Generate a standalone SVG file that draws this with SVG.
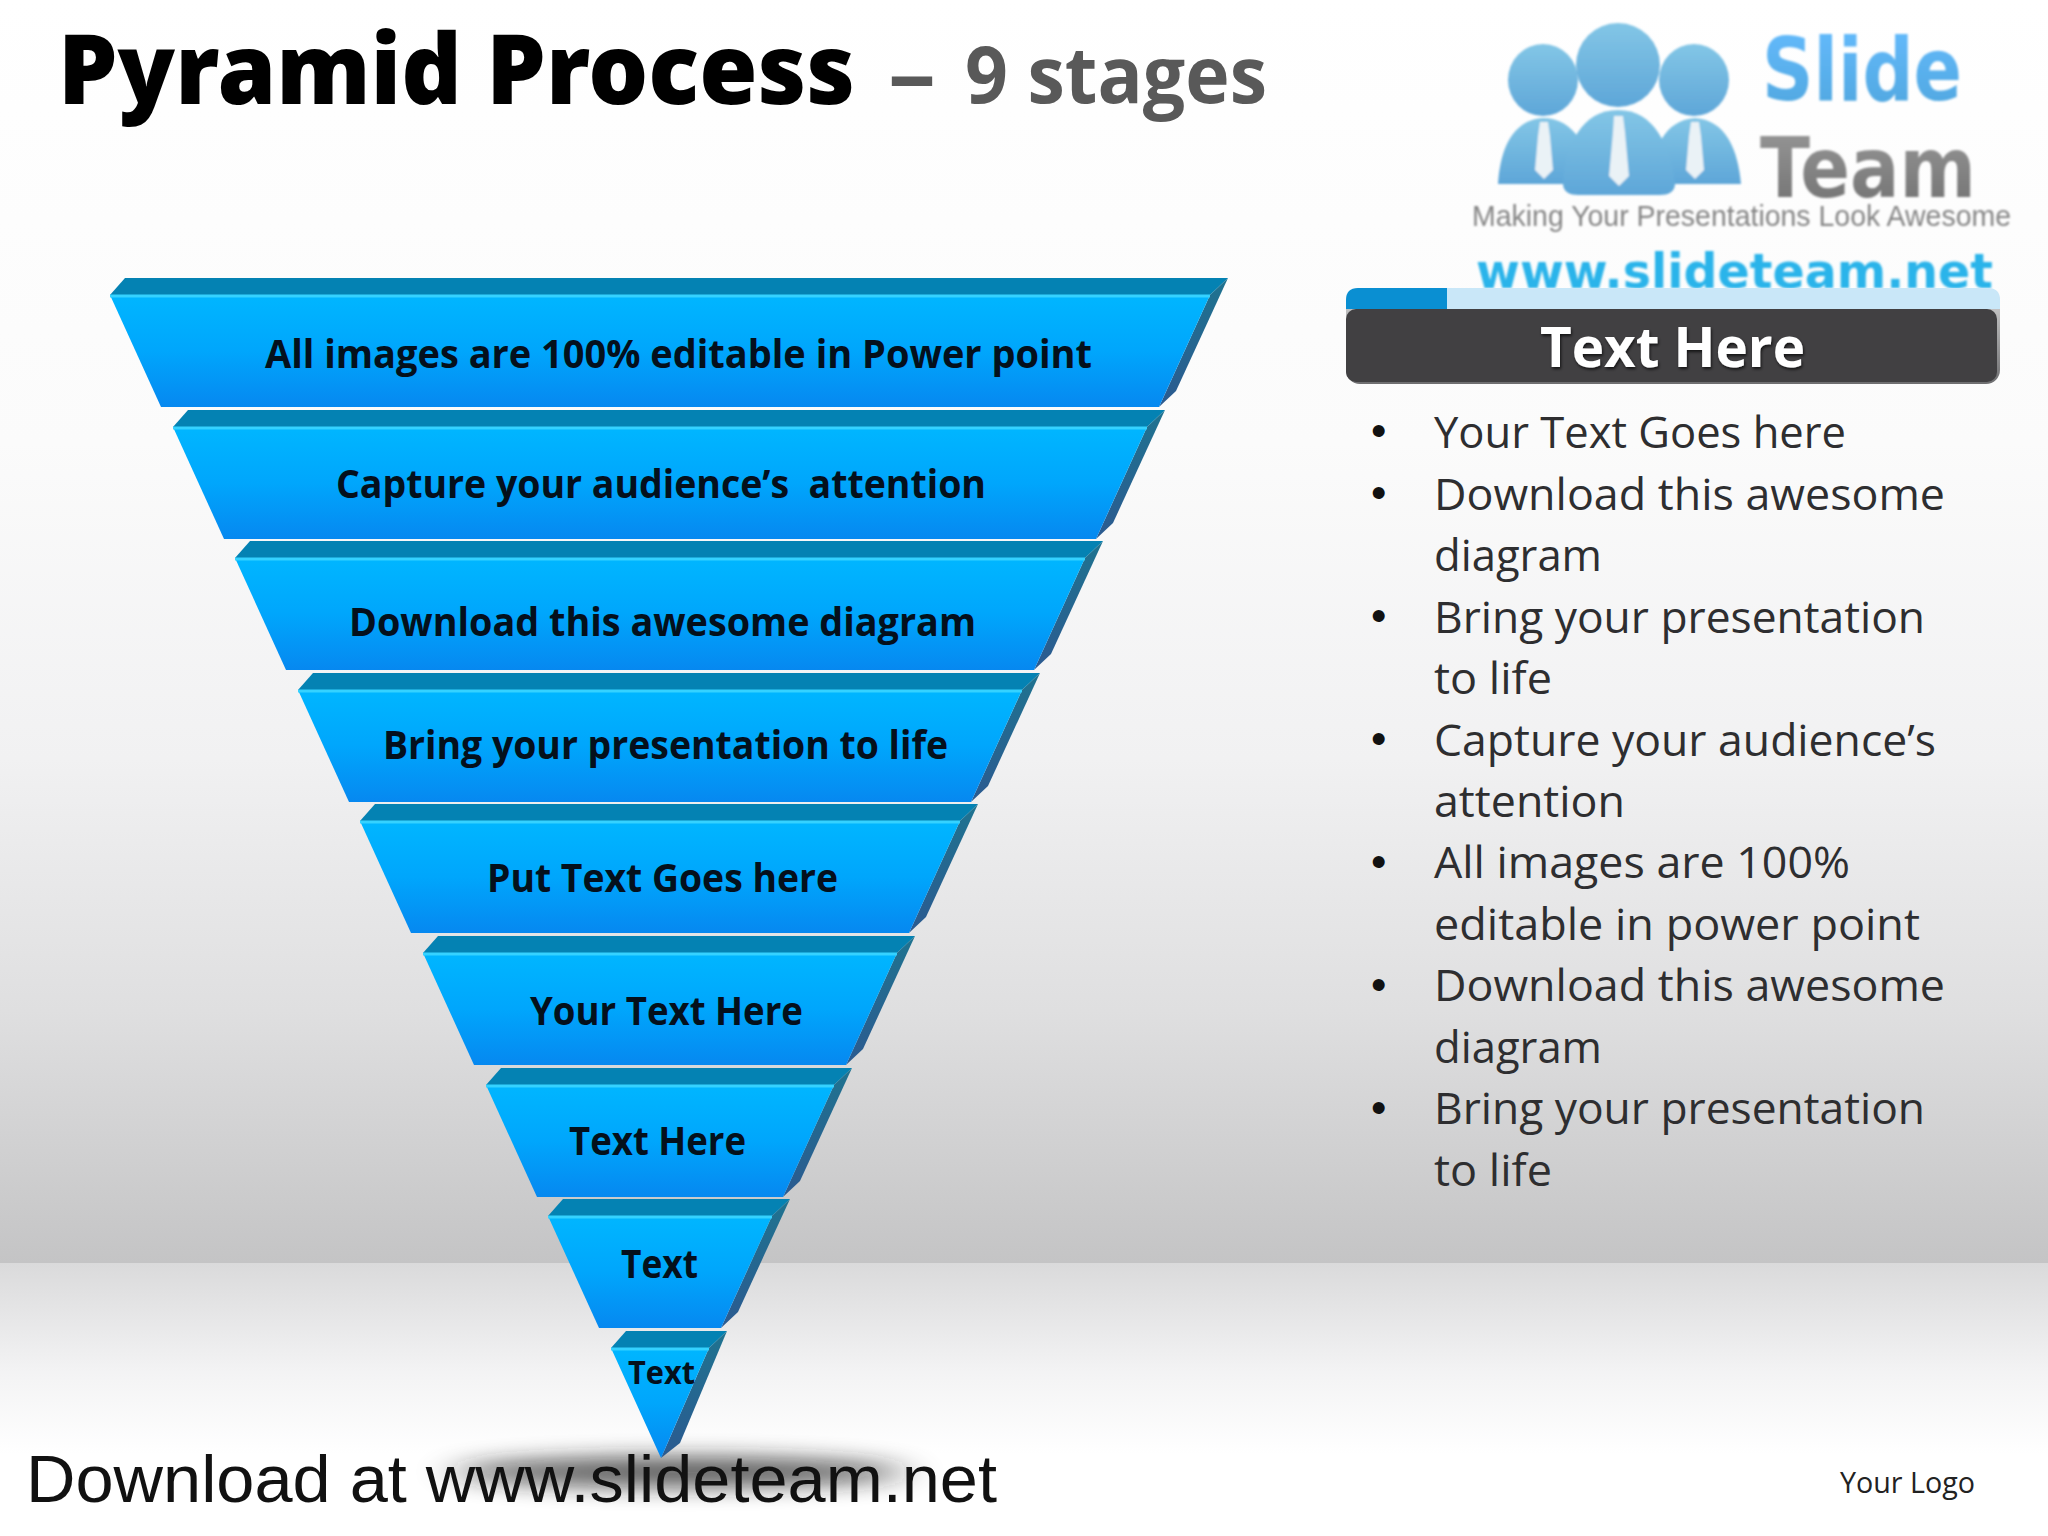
<svg xmlns="http://www.w3.org/2000/svg" width="2048" height="1536" viewBox="0 0 2048 1536">
<defs>
<linearGradient id="wall" x1="0" y1="0" x2="0" y2="1"><stop offset="0" stop-color="#fff"/><stop offset=".35" stop-color="#fbfbfb"/><stop offset=".6" stop-color="#f1f1f2"/><stop offset=".8" stop-color="#dfdfe0"/><stop offset="1" stop-color="#c4c4c5"/></linearGradient>
<linearGradient id="floor" x1="0" y1="0" x2="0" y2="1"><stop offset="0" stop-color="#dadadb"/><stop offset=".4" stop-color="#f3f3f4"/><stop offset=".7" stop-color="#fff"/><stop offset="1" stop-color="#fff"/></linearGradient>
<linearGradient id="front" x1="0" y1="0" x2="0" y2="1"><stop offset="0" stop-color="#00b6ff"/><stop offset=".5" stop-color="#00a6fc"/><stop offset="1" stop-color="#0688f0"/></linearGradient>
<linearGradient id="side" x1="0" y1="0" x2="0" y2="1"><stop offset="0" stop-color="#1f7390"/><stop offset="1" stop-color="#2b5a90"/></linearGradient>
<linearGradient id="person" x1="0" y1="0" x2="0" y2="1"><stop offset="0" stop-color="#83c6e6"/><stop offset="1" stop-color="#5ea6d8"/></linearGradient>
<linearGradient id="slideT" x1="0" y1="0" x2="0" y2="1"><stop offset="0" stop-color="#66bcff"/><stop offset="1" stop-color="#4ea5dc"/></linearGradient>
<linearGradient id="teamT" x1="0" y1="0" x2="0" y2="1"><stop offset="0" stop-color="#9a9a9a"/><stop offset="1" stop-color="#6f6f6f"/></linearGradient>
<linearGradient id="rim" x1="0" y1="0" x2="0" y2="1"><stop offset="0" stop-color="#d8d8d8"/><stop offset="1" stop-color="#6e6e70"/></linearGradient>
<filter id="blurS" x="-30%" y="-200%" width="160%" height="500%"><feGaussianBlur stdDeviation="22 11"/></filter>
<filter id="soft" x="-5%" y="-5%" width="110%" height="110%"><feGaussianBlur stdDeviation="0.8"/></filter>
<filter id="tshadow" x="-10%" y="-20%" width="120%" height="150%"><feDropShadow dx="1" dy="2" stdDeviation="1.5" flood-color="#000" flood-opacity=".7"/></filter>
</defs>
<style>
.top{fill:#0482b3}
.front{fill:url(#front)}
.side{fill:url(#side)}
.hl{stroke:#35d2ff;stroke-width:3;fill:none}
.lab{font-family:"Open Sans","Liberation Sans",sans-serif;font-weight:700;font-size:39px;fill:#04101c;text-anchor:start}
.li{font-family:"Open Sans","Liberation Sans",sans-serif;font-size:44px;fill:#2e2e30}
.bu{font-family:"Liberation Sans",sans-serif;font-size:44px;fill:#111}
</style>
<rect id="wall-bg" width="2048" height="1263" fill="url(#wall)"/>
<rect id="floor-bg" y="1263" width="2048" height="273" fill="url(#floor)"/>
<ellipse id="shadow" cx="680" cy="1472" rx="225" ry="15" fill="#1a1a1a" opacity=".72" filter="url(#blurS)"/>

<text id="title" x="58" y="104" font-family="'Noto Sans','Open Sans',sans-serif" font-weight="900" font-size="97" fill="#000" textLength="797" lengthAdjust="spacingAndGlyphs">Pyramid Process</text>
<text id="title-dash" x="888" y="104" font-family="'Open Sans',sans-serif" font-weight="700" font-size="84" fill="#595959" textLength="48" lengthAdjust="spacingAndGlyphs">–</text>
<text id="title-sub" x="965" y="103" font-family="'Open Sans',sans-serif" font-weight="700" font-size="78" fill="#595959" textLength="302" lengthAdjust="spacingAndGlyphs">9 stages</text>

<g id="logo" filter="url(#soft)">
<ellipse cx="1543" cy="80" rx="35" ry="36" fill="url(#person)"/>
<ellipse cx="1694" cy="80" rx="35" ry="36" fill="url(#person)"/>
<path d="M1498 184C1500 150 1512 120 1543 118C1575 118 1590 150 1592 184Z" fill="url(#person)"/>
<path d="M1650 184C1652 150 1664 120 1695 118C1726 120 1738 150 1741 184Z" fill="url(#person)"/>
<ellipse cx="1618" cy="65" rx="42" ry="42" fill="url(#person)"/>
<path d="M1563 184C1565 145 1582 110 1618 110C1654 110 1670 145 1675 184C1675 192 1668 195 1660 195H1578C1570 195 1563 192 1563 184Z" fill="url(#person)"/>
<path d="M1540 122h8l2 14 3 34-9 9-9-9 3-34z" fill="#eaf2f6"/>
<path d="M1614 116h9l2 16 4 44-10 10-10-10 4-44z" fill="#eaf2f6"/>
<path d="M1691 122h8l2 14 3 34-9 9-9-9 3-34z" fill="#eaf2f6"/>
<text x="1762" y="100" font-family="'DejaVu Sans',sans-serif" font-weight="700" font-size="88" fill="url(#slideT)" textLength="200" lengthAdjust="spacingAndGlyphs">Slide</text>
<text x="1760" y="197" font-family="'DejaVu Sans',sans-serif" font-weight="700" font-size="84" fill="url(#teamT)" textLength="216" lengthAdjust="spacingAndGlyphs">Team</text>
<text x="1472" y="226" font-family="'Liberation Sans',sans-serif" font-size="30" fill="#858585" textLength="539" lengthAdjust="spacingAndGlyphs">Making Your Presentations Look Awesome</text>
<text x="1476" y="288" font-family="'DejaVu Sans',sans-serif" font-weight="700" font-size="48" fill="#2ab4ea" textLength="517" lengthAdjust="spacingAndGlyphs">www.slideteam.net</text>
</g>

<g id="panel">
<rect x="1346" y="288" width="654" height="96" rx="14" fill="url(#rim)"/>
<rect x="1346" y="309" width="651" height="73" rx="10" fill="#414042"/>
<path d="M1447 288H1988Q2000 288 2000 300V309H1447Z" fill="#c9e7f8"/>
<path d="M1346 309V300Q1346 288 1358 288H1447V309Z" fill="#0a8fd2"/>
<text x="1540" y="367" font-family="'Open Sans',sans-serif" font-weight="700" font-size="56" fill="#fff" filter="url(#tshadow)" textLength="265" lengthAdjust="spacingAndGlyphs">Text Here</text>
</g>

<g id="stage-1">
<polygon class="top" points="125,278 1228,278 1210,295 110,295"/>
<polygon class="side" points="1228,278 1210,295 1159,407 1176,391"/>
<polygon class="front" points="110,295 1210,295 1159,407 161,407"/>
<line class="hl" x1="110" y1="296" x2="1210" y2="296"/>
<text class="lab" x="265" y="368" textLength="827" lengthAdjust="spacingAndGlyphs">All images are 100% editable in Power point</text>
</g>
<g id="stage-2">
<polygon class="top" points="188,410 1165,410 1147,427 173,427"/>
<polygon class="side" points="1165,410 1147,427 1096,539 1113,523"/>
<polygon class="front" points="173,427 1147,427 1096,539 224,539"/>
<line class="hl" x1="173" y1="428" x2="1147" y2="428"/>
<text class="lab" x="336" y="498" textLength="650" lengthAdjust="spacingAndGlyphs" xml:space="preserve">Capture your audience’s  attention</text>
</g>
<g id="stage-3">
<polygon class="top" points="250,541 1103,541 1085,558 235,558"/>
<polygon class="side" points="1103,541 1085,558 1034,670 1051,654"/>
<polygon class="front" points="235,558 1085,558 1034,670 286,670"/>
<line class="hl" x1="235" y1="559" x2="1085" y2="559"/>
<text class="lab" x="349" y="636" textLength="627" lengthAdjust="spacingAndGlyphs">Download this awesome diagram</text>
</g>
<g id="stage-4">
<polygon class="top" points="313,673 1040,673 1022,690 298,690"/>
<polygon class="side" points="1040,673 1022,690 971,802 988,786"/>
<polygon class="front" points="298,690 1022,690 971,802 349,802"/>
<line class="hl" x1="298" y1="691" x2="1022" y2="691"/>
<text class="lab" x="383" y="759" textLength="565" lengthAdjust="spacingAndGlyphs">Bring your presentation to life</text>
</g>
<g id="stage-5">
<polygon class="top" points="375,804 978,804 960,821 360,821"/>
<polygon class="side" points="978,804 960,821 909,933 926,917"/>
<polygon class="front" points="360,821 960,821 909,933 411,933"/>
<line class="hl" x1="360" y1="822" x2="960" y2="822"/>
<text class="lab" x="487" y="892" textLength="351" lengthAdjust="spacingAndGlyphs">Put Text Goes here</text>
</g>
<g id="stage-6">
<polygon class="top" points="438,936 915,936 897,953 423,953"/>
<polygon class="side" points="915,936 897,953 846,1065 863,1049"/>
<polygon class="front" points="423,953 897,953 846,1065 474,1065"/>
<line class="hl" x1="423" y1="954" x2="897" y2="954"/>
<text class="lab" x="530" y="1025" textLength="273" lengthAdjust="spacingAndGlyphs">Your Text Here</text>
</g>
<g id="stage-7">
<polygon class="top" points="501,1068 852,1068 834,1085 486,1085"/>
<polygon class="side" points="852,1068 834,1085 783,1197 800,1181"/>
<polygon class="front" points="486,1085 834,1085 783,1197 537,1197"/>
<line class="hl" x1="486" y1="1086" x2="834" y2="1086"/>
<text class="lab" x="569" y="1155" textLength="177" lengthAdjust="spacingAndGlyphs">Text Here</text>
</g>
<g id="stage-8">
<polygon class="top" points="563,1199 790,1199 772,1216 548,1216"/>
<polygon class="side" points="790,1199 772,1216 721,1328 738,1312"/>
<polygon class="front" points="548,1216 772,1216 721,1328 599,1328"/>
<line class="hl" x1="548" y1="1217" x2="772" y2="1217"/>
<text class="lab" x="621" y="1278" textLength="77" lengthAdjust="spacingAndGlyphs">Text</text>
</g>
<g id="stage-9">
<polygon class="top" points="626,1331 727,1331 709,1348 611,1348"/>
<polygon class="side" points="727,1331 709,1348 661,1458 680,1443"/>
<polygon class="front" points="611,1348 709,1348 661,1458"/>
<line class="hl" x1="611" y1="1349" x2="709" y2="1349"/>
<text class="lab" x="628" y="1384" textLength="67" lengthAdjust="spacingAndGlyphs" style="font-size:33px">Text</text>
</g>

<g id="bullets">
<text class="bu" x="1371" y="446">•</text>
<text class="bu" x="1371" y="508">•</text>
<text class="bu" x="1371" y="631">•</text>
<text class="bu" x="1371" y="754">•</text>
<text class="bu" x="1371" y="877">•</text>
<text class="bu" x="1371" y="1000">•</text>
<text class="bu" x="1371" y="1123">•</text>
<text class="li" x="1434" y="448" textLength="412" lengthAdjust="spacingAndGlyphs">Your Text Goes here</text>
<text class="li" x="1434" y="510" textLength="511" lengthAdjust="spacingAndGlyphs">Download this awesome</text>
<text class="li" x="1434" y="571" textLength="168" lengthAdjust="spacingAndGlyphs">diagram</text>
<text class="li" x="1434" y="633" textLength="491" lengthAdjust="spacingAndGlyphs">Bring your presentation</text>
<text class="li" x="1434" y="694" textLength="118" lengthAdjust="spacingAndGlyphs">to life</text>
<text class="li" x="1434" y="756" textLength="502" lengthAdjust="spacingAndGlyphs">Capture your audience’s</text>
<text class="li" x="1434" y="817" textLength="191" lengthAdjust="spacingAndGlyphs">attention</text>
<text class="li" x="1434" y="878" textLength="416" lengthAdjust="spacingAndGlyphs">All images are 100%</text>
<text class="li" x="1434" y="940" textLength="486" lengthAdjust="spacingAndGlyphs">editable in power point</text>
<text class="li" x="1434" y="1001" textLength="511" lengthAdjust="spacingAndGlyphs">Download this awesome</text>
<text class="li" x="1434" y="1063" textLength="168" lengthAdjust="spacingAndGlyphs">diagram</text>
<text class="li" x="1434" y="1124" textLength="491" lengthAdjust="spacingAndGlyphs">Bring your presentation</text>
<text class="li" x="1434" y="1186" textLength="118" lengthAdjust="spacingAndGlyphs">to life</text>
</g>

<text id="footer" x="26" y="1502" font-family="'Liberation Sans',Arial,sans-serif" font-size="67" fill="#111" textLength="971" lengthAdjust="spacingAndGlyphs">Download at www.slideteam.net</text>
<text id="your-logo" x="1840" y="1493" font-family="'Open Sans',sans-serif" font-size="29" fill="#222" textLength="135" lengthAdjust="spacingAndGlyphs">Your Logo</text>
</svg>
